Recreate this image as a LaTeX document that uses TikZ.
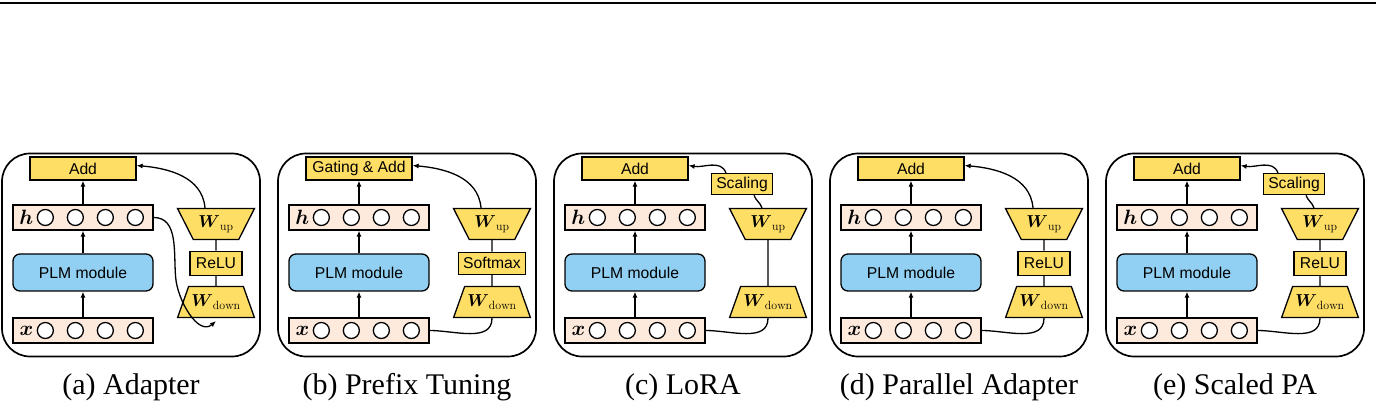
\documentclass[tikz,border=0pt]{standalone}
\usepackage{amsmath,amssymb}
\usepackage{fontspec}
\newfontfamily\boxfont{Liberation Sans}
\newfontfamily\capfont{Liberation Serif}
\newcommand{\sansbox}{\boxfont\fontsize{15.7}{18}\selectfont}
\definecolor{adyellow}{RGB}{255,222,102}
\definecolor{plmblue}{RGB}{146,208,243}
\definecolor{rowpeach}{RGB}{253,234,221}
\usetikzlibrary{arrows.meta, positioning, shapes.geometric}

\begin{document}
\begin{tikzpicture}[x=1pt, y=1pt, line width=1.3pt,
  arr/.style={-{Latex[length=6pt,width=5pt]}},
  frame/.style={draw, line width=1.7pt, rounded corners=28pt},
  opbox/.style={draw, fill=adyellow, font=\sansbox, inner xsep=5pt, inner ysep=0pt, minimum height=23pt},
  plm/.style={draw, fill=plmblue, rounded corners=7pt, minimum width=140pt, minimum height=37pt, font=\sansbox},
  rowbox/.style={draw, fill=rowpeach, minimum width=140pt, minimum height=25pt, inner sep=0pt},
  unit/.style={draw, circle, fill=white, minimum size=16pt, inner sep=0pt},
  veclab/.style={inner sep=0pt, font=\fontsize{22}{24}\selectfont},
  wmat/.style={draw, fill=adyellow, trapezium, trapezium stretches=true, trapezium angle=59,
    minimum height=31pt, minimum width=77pt, inner xsep=-3pt, inner ysep=0pt, font=\fontsize{17}{19}\selectfont},
  wup/.style={wmat, shape border rotate=180},
  caption/.style={font=\capfont\fontsize{30}{32}\selectfont, anchor=base}
]
  \useasboundingbox (0,0) rectangle (1376,411);
  % Rule on top
  \draw[line width=2pt] (0,408) -- (1376,408);

  % Panels
  \foreach \p/\px/\addtext/\captext in {a/2/Add/(a) Adapter, b/278/Gating \& Add/(b) Prefix Tuning,
      c/554/Add/(c) LoRA, d/830/Add/(d) Parallel Adapter, e/1106/Add/(e) Scaled PA} {
    \begin{scope}[xshift=\px]
      \draw[frame] (0,54.5) rectangle (258,257.5);
      \node[opbox, minimum width=106pt] (\p-add) at (81,242.5) {\addtext};
      \node[rowbox] (\p-h) at (81,193.5) {};
      \node[plm] (\p-plm) at (81,138.5) {PLM module};
      \node[rowbox] (\p-x) at (81,80.5) {};
      \node[veclab] (\p-hlab) at ([xshift=14pt]\p-h.west) {$\boldsymbol{h}$};
      \node[veclab] (\p-xlab) at ([xshift=14pt]\p-x.west) {$\boldsymbol{x}$};
      \foreach \c in {1,...,4} {
        \node[unit] (\p-h\c) at ([xshift={3+30*\c}]\p-h.west) {};
        \node[unit] (\p-x\c) at ([xshift={3+30*\c}]\p-x.west) {};
      }
      \node[wup] (\p-wup) at (214,187) {$\boldsymbol{W}_{\mathrm{up}}$};
      \node[wmat] (\p-wdown) at (214,109) {$\boldsymbol{W}_{\mathrm{down}}$};
      \draw[arr] (\p-x) -- (\p-plm);
      \draw[arr] (\p-plm) -- (\p-h);
      \draw[arr] (\p-h) -- (\p-add);
      \node[caption] (\p-cap) at (129,16) {\captext};
    \end{scope}
  }

  % (a) Adapter
  \node[opbox, minimum width=52pt, minimum height=24pt, above=10pt of a-wdown] (a-relu) {ReLU};
  \draw (a-wup) -- (a-relu);
  \draw (a-relu) -- (a-wdown);
  \draw[arr] ([xshift=-11pt]a-wup.north) to[out=95,in=-5] ([yshift=3pt]a-add.east);
  \draw[arr] (a-h.east) to[out=0,in=95] ++(22,-60) to[out=-85,in=-140] ([yshift=-3pt]a-wdown.south);

  % (b) Prefix Tuning
  \node[opbox, minimum width=66pt, minimum height=22pt, above=11pt of b-wdown] (b-soft) {Softmax};
  \draw (b-wup) -- (b-soft);
  \draw (b-soft) -- (b-wdown);
  \draw[arr] ([xshift=-11pt]b-wup.north) to[out=95,in=-5] ([yshift=3pt]b-add.east);
  \draw (b-x.east) to[out=0,in=-90] (b-wdown.south);

  % (c) LoRA
  \node[opbox, minimum width=58pt, minimum height=21pt, above=12.5pt of c-wup, xshift=-26pt] (c-scale) {Scaling};
  \draw (c-wup) -- (c-wdown);
  \draw ([xshift=12pt]c-scale.south) to[out=-70,in=110] ([xshift=-6pt]c-wup.north);
  \draw[arr] ([xshift=-16pt]c-scale.north) to[out=110,in=-10] ([yshift=3pt]c-add.east);
  \draw (c-x.east) to[out=0,in=-90] (c-wdown.south);

  % (d) Parallel Adapter
  \node[opbox, minimum width=52pt, minimum height=24pt, above=10pt of d-wdown] (d-relu) {ReLU};
  \draw (d-wup) -- (d-relu);
  \draw (d-relu) -- (d-wdown);
  \draw[arr] ([xshift=-11pt]d-wup.north) to[out=95,in=-5] ([yshift=3pt]d-add.east);
  \draw (d-x.east) to[out=0,in=-90] (d-wdown.south);

  % (e) Scaled PA
  \node[opbox, minimum width=52pt, minimum height=24pt, above=10pt of e-wdown] (e-relu) {ReLU};
  \node[opbox, minimum width=58pt, minimum height=21pt, above=12.5pt of e-wup, xshift=-26pt] (e-scale) {Scaling};
  \draw (e-wup) -- (e-relu);
  \draw (e-relu) -- (e-wdown);
  \draw ([xshift=12pt]e-scale.south) to[out=-70,in=110] ([xshift=-6pt]e-wup.north);
  \draw[arr] ([xshift=-16pt]e-scale.north) to[out=110,in=-10] ([yshift=3pt]e-add.east);
  \draw (e-x.east) to[out=0,in=-90] (e-wdown.south);
\end{tikzpicture}
\end{document}
